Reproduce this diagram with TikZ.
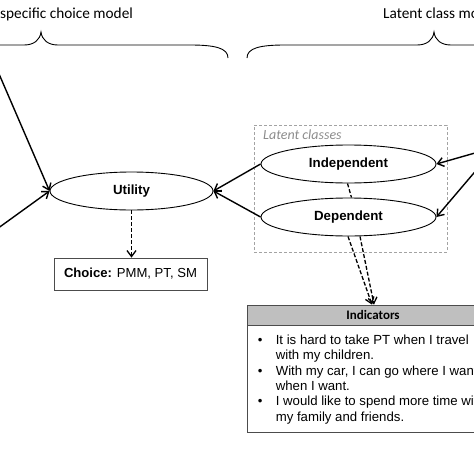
\documentclass[tikz,border=0pt]{standalone}
\usepackage{fontspec}
\setmainfont{Liberation Sans}
\newfontfamily\calibri{Carlito}
\usetikzlibrary{arrows.meta,shapes.geometric}
\definecolor{hdgray}{HTML}{BFBFBF}
\definecolor{lcgray}{HTML}{8C8C8C}
\begin{document}
\begin{tikzpicture}[x=1pt,y=-1pt,
  myell/.style={ellipse, draw, line width=0.9pt, inner sep=0pt, minimum height=38pt, font=\fontsize{13.3}{15}\selectfont\bfseries},
  mybox/.style={rectangle, draw=black!70, line width=0.8pt, inner sep=0pt},
  myarr/.style={line width=1.4pt, -{Straight Barb[length=6pt,width=9pt,line width=1.4pt]}},
  mydash/.style={line width=1.3pt, dash pattern=on 4pt off 2pt, -{Straight Barb[length=6pt,width=9pt,line width=1.3pt]}},
  mytitle/.style={font=\calibri\fontsize{15.3}{18}\selectfont, inner sep=0pt, anchor=base west}]
  \clip (0,0) rectangle (474,474);
  \useasboundingbox (0,0) rectangle (474,474);

  \node[mytitle] (tl) at (0,18.5) {specific choice model};
  \node[mytitle] (tr) at (383,18.5) {Latent class model};

  \draw[line width=0.9pt] (228,58) .. controls (228,48) and (215,45) .. (190,45) -- (58,45) .. controls (48,45) and (42,40) .. (41,32) .. controls (40,40) and (34,45) .. (24,45) -- (-120,45);
  \draw[line width=0.9pt] (247,58) .. controls (247,48) and (260,45) .. (285,45) -- (417,45) .. controls (427,45) and (433,40) .. (434,32) .. controls (435,40) and (441,45) .. (451,45) -- (600,45);

  \node[mybox, draw=lcgray!80, line width=0.7pt, dash pattern=on 3pt off 2pt, minimum width=193pt, minimum height=127pt] (lcbox) at (350.5,188.5) {};
  \node[font=\calibri\itshape\fontsize{14}{16}\selectfont, text=lcgray, inner sep=0pt, anchor=base west] (lclab) at (263,139) {Latent classes};

  \node[myell, minimum width=163pt] (util) at (131.5,191) {Utility};
  \node[myell, minimum width=175pt] (indep) at (348.5,164) {Independent};
  \node[myell, minimum width=175pt] (dep) at (348.5,217) {Dependent};

  \node[mybox, minimum width=153pt, minimum height=32pt, font=\fontsize{13.1}{15}\selectfont] (choice) at (130.5,274) {\textbf{Choice:} PMM, PT, SM};

  \node[mybox, fill=hdgray, minimum width=252pt, minimum height=20pt, font=\calibri\bfseries\fontsize{13}{15}\selectfont] (indic) at (373,315) {Indicators};
  \node[mybox, minimum width=252pt, minimum height=107pt, anchor=north] (indbox) at (indic.south) {};
  \node[inner sep=0pt, anchor=north west, font=\fontsize{13.2}{15.4}\selectfont] (indtext) at ([xshift=11pt,yshift=-8pt]indbox.north west) {%
    \begin{tabular}{@{}l@{\hspace{13.4pt}}l@{}}
    • & It is hard to take PT when I travel\\
      & with my children.\\
    • & With my car, I can go where I want\\
      & when I want.\\
    • & I would like to spend more time with\\
      & my family and friends.
    \end{tabular}};

  \coordinate (l1) at (-7,60);
  \coordinate (l2) at (-10,234);
  \coordinate (r1) at (496,147);

    \draw[myarr] (l1) -- (util.west);
    \draw[myarr] (l2) -- (util.west);
    \draw[myarr] (indep.west) -- (util.east);
    \draw[myarr] (dep.west) -- (util.east);
    \draw[myarr] (r1) -- (indep.east);
    \draw[myarr] (r1) -- (dep.east);
    \draw[mydash] (util.south) -- (util.south |- choice.north);
    \draw[line width=1.3pt, dash pattern=on 4pt off 2pt] ([xshift=-1pt]indep.south) -- ([xshift=3pt]dep.north);
    \draw[mydash] ([xshift=-0.5pt]dep.south) -- ([xshift=-1pt]indic.north);
    \draw[mydash] ([xshift=11.5pt]dep.south) -- ([xshift=1pt]indic.north);

\end{tikzpicture}
\end{document}
